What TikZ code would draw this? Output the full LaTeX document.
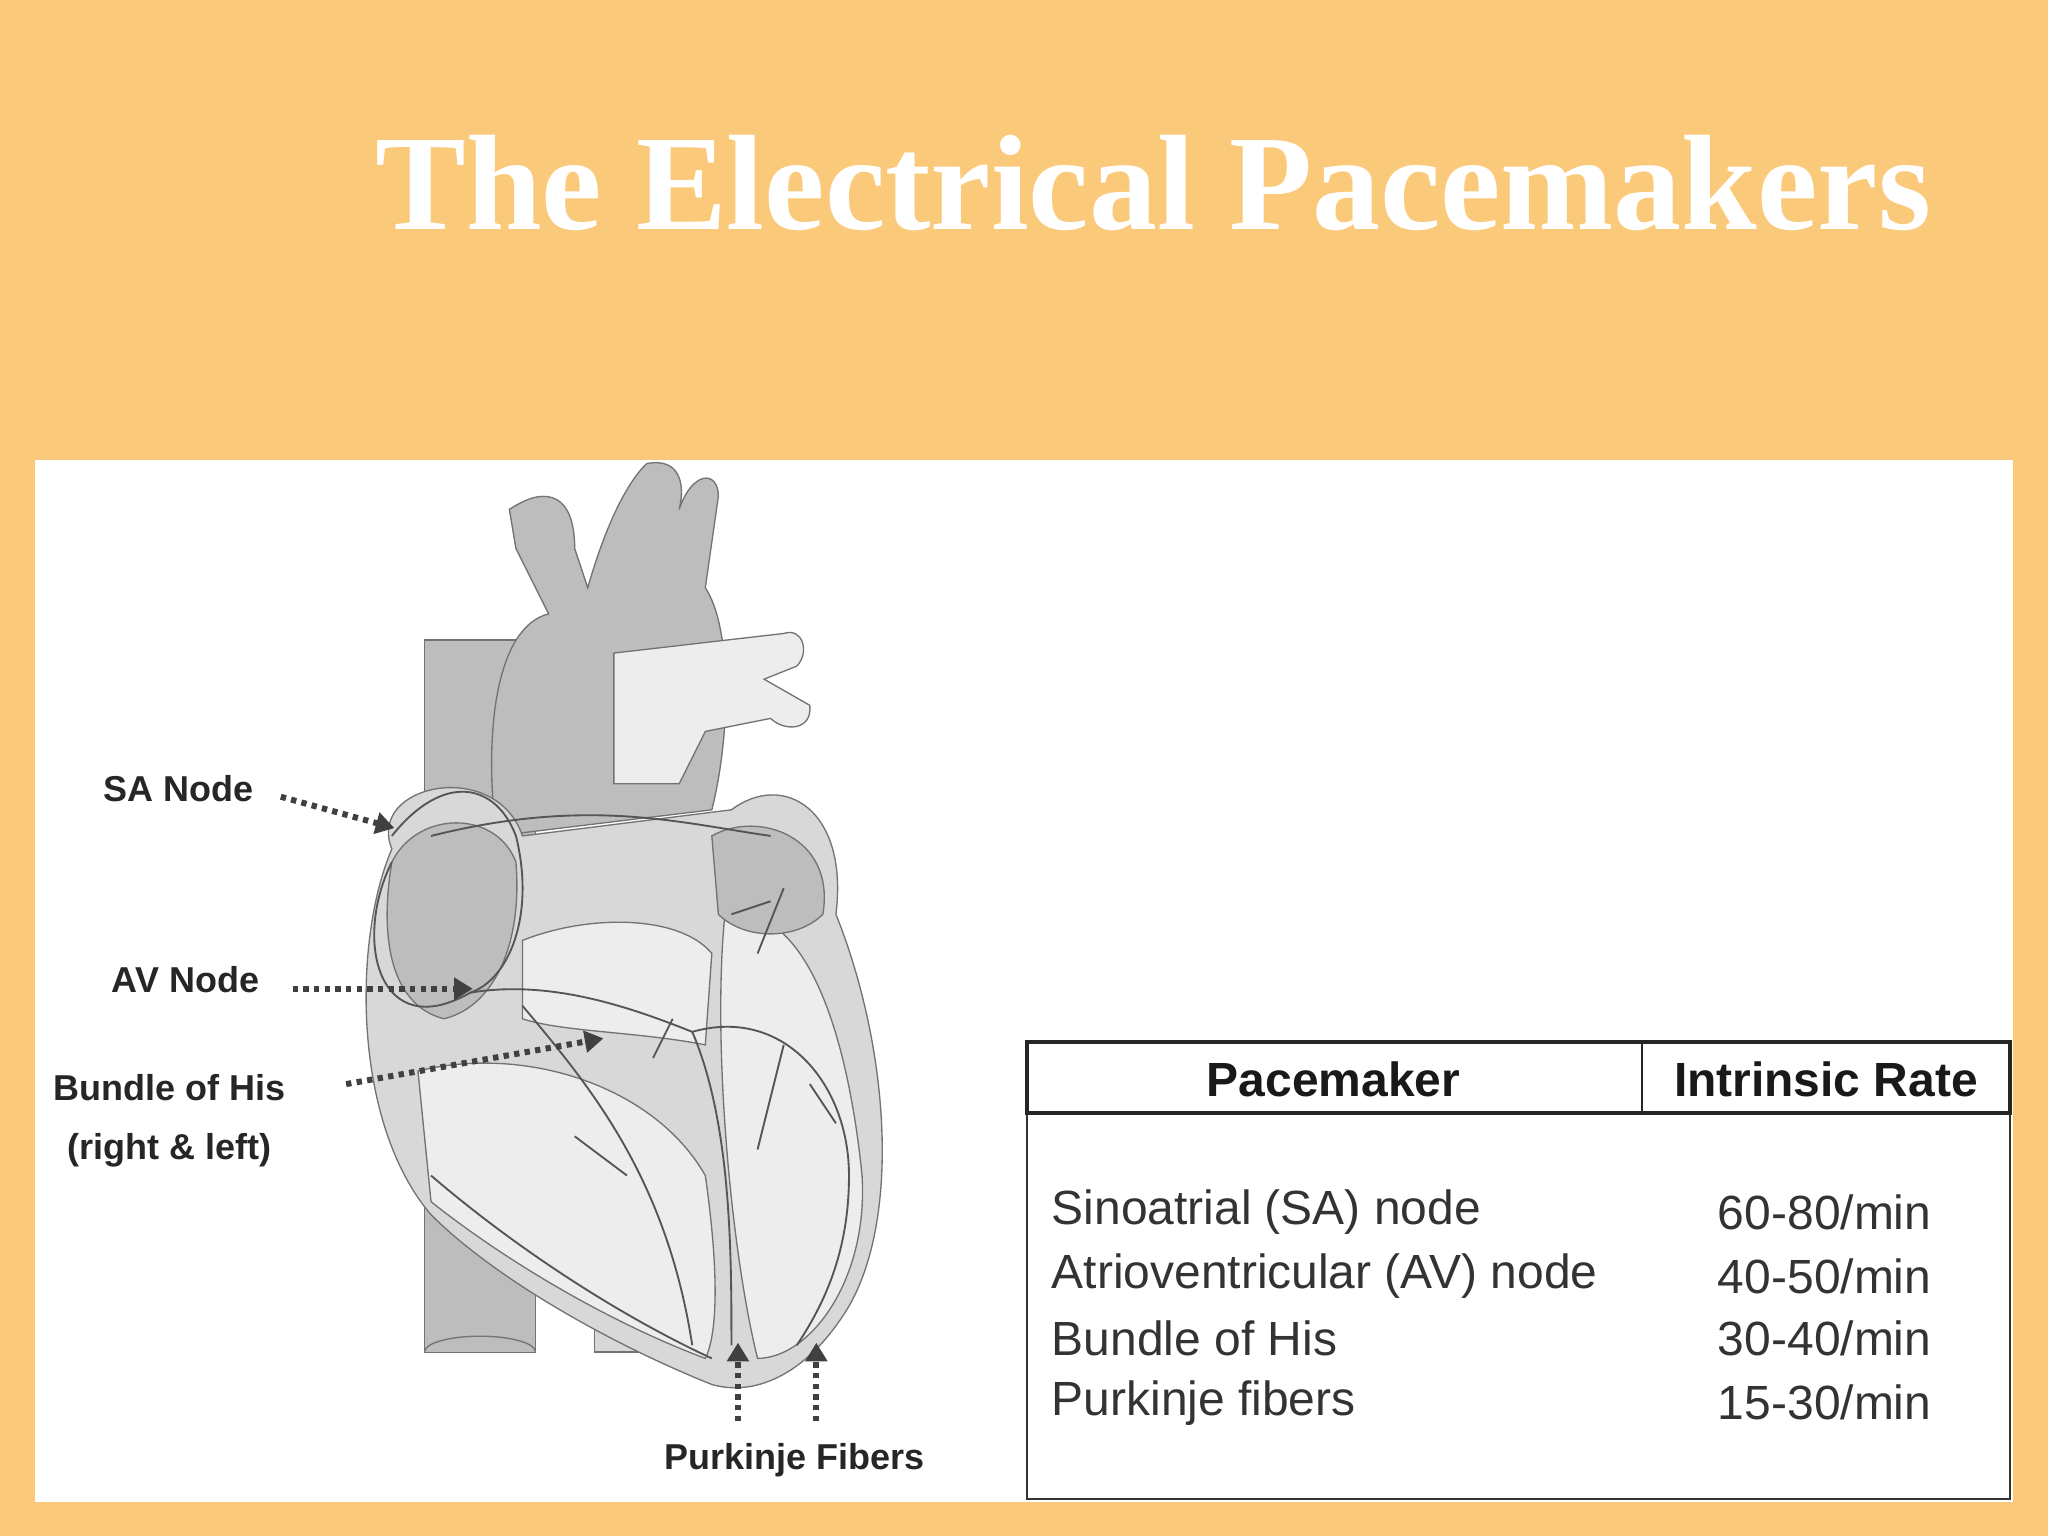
\documentclass[tikz,border=0pt]{standalone}
\usepackage{fontspec}
\setsansfont{Liberation Sans}
\setmainfont{Liberation Serif}
\usetikzlibrary{arrows.meta}
\definecolor{bgor}{HTML}{FBC97A}
\definecolor{hg1}{HTML}{BDBDBD}
\definecolor{hg2}{HTML}{D8D8D8}
\definecolor{hg3}{HTML}{EDEDED}
\definecolor{hdark}{HTML}{555555}
\tikzset{
 lbl/.style={font=\sffamily\bfseries\fontsize{27}{44}\selectfont, text=black!85, inner sep=0},
 rowl/.style={font=\sffamily\fontsize{36}{40}\selectfont, text=black!80, anchor=west, inner sep=0},
 rowr/.style={font=\sffamily\fontsize{36}{40}\selectfont, text=black!80, inner sep=0},
 hdr/.style={font=\sffamily\bfseries\fontsize{36}{40}\selectfont, text=black!90},
 dotarrow/.style={line width=4.5pt, draw=black!75, dash pattern=on 4pt off 4pt, -{Triangle[length=14pt,width=16pt]}},
 organ/.style={draw=black!55, line width=1pt},
 wire/.style={draw=hdark, line width=1.4pt},
}
\begin{document}
\begin{tikzpicture}[x=0.98pt,y=-0.98pt]
\useasboundingbox (0,0) rectangle (1568,1176);
\fill[bgor] (0,0) rectangle (1568,1176);
\node[font=\rmfamily\bfseries\fontsize{102}{110}\selectfont, text=white] (title) at (883,140) {The Electrical Pacemakers};
\fill[white] (27,352) rectangle (1541,1150);
% heart
\fill[hg1,organ] (325,490) rectangle (410,1035);
\fill[hg1,organ] (325,1035) arc[start angle=180,end angle=360,x radius=42.5,y radius=12];
\fill[hg2,organ] (455,990) rectangle (520,1035) ;
\fill[hg1,organ] (390,390) .. controls (420,370) and (440,380) .. (440,420) -- (450,450) .. controls (470,380) and (490,360) .. (495,355) .. controls (520,350) and (525,370) .. (520,390) .. controls (530,360) and (550,360) .. (550,380) -- (540,450) .. controls (560,480) and (560,560) .. (545,620) -- (380,640) .. controls (370,560) and (380,480) .. (420,470) -- (395,420) -- cycle;
\fill[hg3,organ] (470,500) -- (600,485) .. controls (615,480) and (620,500) .. (610,510) -- (585,520) -- (620,540) .. controls (622,560) and (600,560) .. (590,550) -- (540,560) -- (520,600) -- (470,600) -- cycle;
\fill[hg2,organ] (300,650) .. controls (280,600) and (380,580) .. (400,640) -- (560,620) .. controls (600,590) and (650,620) .. (640,700) .. controls (680,800) and (690,930) .. (650,1000) .. controls (620,1050) and (580,1070) .. (545,1060) .. controls (470,1030) and (380,980) .. (330,930) .. controls (270,860) and (270,720) .. (300,650) -- cycle;
\fill[hg3,organ] (555,700) .. controls (620,690) and (650,800) .. (660,900) .. controls (665,980) and (620,1040) .. (580,1040) .. controls (560,960) and (545,800) .. (555,700) -- cycle;
\fill[hg3,organ] (320,820) .. controls (400,800) and (500,830) .. (540,900) .. controls (550,970) and (550,1020) .. (540,1040) .. controls (460,1010) and (380,960) .. (330,920) -- cycle;
\fill[hg1,organ] (300,660) .. controls (320,620) and (380,620) .. (395,660) .. controls (400,720) and (380,770) .. (340,780) .. controls (300,770) and (290,720) .. (300,660) -- cycle;
\fill[hg3,organ] (400,720) .. controls (450,700) and (520,700) .. (545,730) -- (540,800) .. controls (490,790) and (430,790) .. (400,780) -- cycle;
\fill[hg1,organ] (545,640) .. controls (580,620) and (640,640) .. (630,700) .. controls (610,720) and (570,720) .. (550,700) -- cycle;
% conduction wires
\draw[wire] (300,640) .. controls (340,590) and (380,600) .. (395,640) .. controls (410,700) and (390,750) .. (360,760);
\draw[wire] (330,640) .. controls (450,610) and (520,630) .. (590,640);
\draw[wire] (300,660) .. controls (270,720) and (290,800) .. (360,760);
\draw[wire] (360,760) .. controls (420,750) and (480,770) .. (530,790) .. controls (560,860) and (560,960) .. (560,1030);
\draw[wire] (530,790) .. controls (600,770) and (650,830) .. (650,900) .. controls (650,960) and (630,1000) .. (610,1030);
\draw[wire] (400,770) .. controls (450,830) and (510,900) .. (530,1030);
\draw[wire] (330,900) .. controls (400,960) and (480,1010) .. (545,1040);
\draw[wire] (600,680) -- (580,730) (590,690) -- (560,700) (515,780) -- (500,810) (600,800) -- (580,880) (440,870) -- (480,900) (620,830) -- (640,860);
% labels and arrows
\node[lbl] (sa) at (137,604) {SA Node};
\node[lbl] (av) at (142,750) {AV Node};
\node[lbl,align=center] (bh) at (130,858) {Bundle of His\\(right \& left)};
\node[lbl] (pf) at (608,1118) {Purkinje Fibers};
\coordinate (saT) at (302,634);
\coordinate (avT) at (362,757);
\coordinate (bhT) at (462,795);
\coordinate (pf1) at (565,1028);
\coordinate (pf2) at (625,1028);
\draw[dotarrow] (215,610) -- (saT);
\draw[dotarrow] (224,757) -- (avT);
\draw[dotarrow] (265,830) -- (bhT);
\draw[dotarrow] (565,1088) -- (pf1);
\draw[dotarrow] (625,1088) -- (pf2);
% table
\draw[line width=1.5pt, draw=black!80] (786,852) rectangle (1539,1148);
\draw[line width=3pt, draw=black!85] (786,798) rectangle (1539,852);
\draw[line width=1.5pt, draw=black!85] (1257,798) -- (1257,852);
\node[hdr] (h1) at (1021,826) {Pacemaker};
\node[hdr] (h2) at (1398,826) {Intrinsic Rate};
\node[rowl] (r1) at (805,928) {Sinoatrial (SA) node};
\node[rowl] (r2) at (805,977) {Atrioventricular (AV) node};
\node[rowl] (r3) at (805,1025) {Bundle of His};
\node[rowl] (r4) at (805,1074) {Purkinje fibers};
\node[rowr] (v1) at (1397,928) {60-80/min};
\node[rowr] (v2) at (1397,977) {40-50/min};
\node[rowr] (v3) at (1397,1025) {30-40/min};
\node[rowr] (v4) at (1397,1074) {15-30/min};
\end{tikzpicture}
\end{document}
